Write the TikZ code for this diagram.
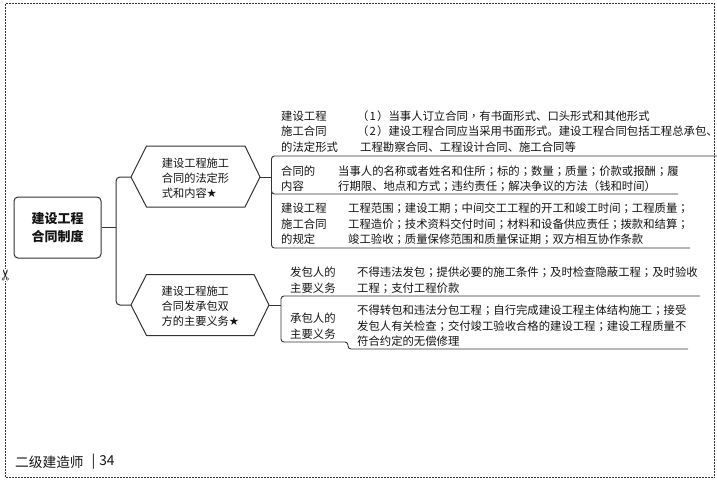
\documentclass[tikz,border=0pt]{standalone}
\usepackage{fontspec}
\setmainfont{Noto Sans CJK SC}
\newfontfamily\symfont{DejaVu Sans}
\newfontfamily\tcfont{Noto Sans CJK TC}
\newcommand{\sm}{{\tcfont ；}}
\newcommand{\cm}{{\tcfont ，}}
\newcommand{\smallstar}{{\symfont\fontsize{11.5}{11.5}\selectfont ★}}
\usetikzlibrary{calc}
\definecolor{ink}{gray}{0.2}
\definecolor{tink}{gray}{0.08}
\tikzset{
  every node/.style={text=tink},
  txt/.style={anchor=west,inner sep=0pt,font=\fontsize{11.35}{13}\selectfont},
  ctr/.style={inner sep=0pt,align=left,font=\fontsize{11.2}{15}\selectfont},
  rootbox/.style={draw=ink,line width=1pt,rounded corners=4pt,inner sep=0pt,minimum width=87pt,minimum height=61pt,align=center,font=\fontsize{13}{18}\selectfont\bfseries},
  hexline/.style={draw=ink,line width=1pt,line join=round},
  conn/.style={draw=ink,line width=1pt,rounded corners=4pt},
  brace/.style={draw=ink,line width=0.9pt,rounded corners=3pt},
  cutline/.style={draw=ink,line width=0.9pt,dash pattern=on 2pt off 1pt}
}
\begin{document}
\begin{tikzpicture}[x=1pt,y=-1pt]
\useasboundingbox (0,0) rectangle (717,480);
\fill[white] (0,0) rectangle (717,480);
% cutting border
\coordinate (tl) at (5.5,3.5); \coordinate (tr) at (714.5,3.5);
\coordinate (bl) at (5.5,477.5); \coordinate (br) at (714.5,477.5);
\draw[cutline] (tl) -- (tr) -- (br) -- (bl) -- (tl);
\node[inner sep=0pt,rotate=90,fill=white,font=\symfont\fontsize{15}{15}\selectfont] (sc) at (6.5,275) {✂};
% root
\node[rootbox] (root) at (57.5,227.5) {建设工程\\合同制度};
% hexagons
\coordinate (h1l) at (131,177); \coordinate (h1r) at (260,177);
\draw[hexline] (h1l) -- (146.5,146) -- (245,146) -- (h1r) -- (245,207) -- (146.5,207) -- cycle;
\node[ctr] (h1) at (195.5,178) {建设工程施工\\合同的法定形\\式和内容\smallstar};
\coordinate (h2l) at (131,305); \coordinate (h2r) at (269,305);
\draw[hexline] (h2l) -- (146.5,274.5) -- (254,274.5) -- (h2r) -- (254,335.5) -- (146.5,335.5) -- cycle;
\node[ctr] (h2) at (200.5,306) {建设工程施工\\合同发承包双\\方的主要义务\smallstar};
% connectors
\coordinate (jn) at (116,227.5);
\draw[conn] (root.east) -- (jn);
\draw[conn] (h1l) -- (116,177) -- (116,305) -- (h2l);
% upper bracket
\coordinate (b1) at (272,177); \coordinate (b2) at (281,305);
\draw[conn] (h1r) -- (b1);
\draw[conn] (h2r) -- (b2);
\draw[brace] (717,156) -- (271.5,156) -- (271.5,194) -- (678,194);
\draw[brace] (271.5,192) -- (271.5,248) -- (690,248);
\draw[brace] (700,296) -- (281,296) -- (281,342) -- (348,342) -- (348,349) -- (688,349);
% texts
\node[txt] (a1) at (281,116) {建设工程};
\node[txt] (a2) at (281,131.5) {施工合同};
\node[txt] (a3) at (281,147) {的法定形式};
\node[txt] (a4) at (357,116) {（\kern1.2pt 1\kern1.2pt）当事人订立合同\cm 有书面形式、口头形式和其他形式};
\node[txt] (a5) at (357,131.5) {（\kern1.2pt 2\kern1.2pt）建设工程合同应当采用书面形式。建设工程合同包括工程总承包、\kern-6pt};
\node[txt] (a6) at (360,147) {工程勘察合同、工程设计合同、施工合同等};
\node[txt] (b1t) at (281,171) {合同的};
\node[txt] (b2t) at (281,186) {内容};
\node[txt] (b3) at (338,171) {当事人的名称或者姓名和住所\sm 标的\sm 数量\sm 质量\sm 价款或报酬\sm 履};
\node[txt] (b4) at (338,186) {行期限、地点和方式\sm 违约责任\sm 解决争议的方法（钱和时间）};
\node[txt] (c1) at (281,208) {建设工程};
\node[txt] (c2) at (281,224) {施工合同};
\node[txt] (c3) at (281,239) {的规定};
\node[txt] (c4) at (348,208) {工程范围\sm 建设工期\sm 中间交工工程的开工和竣工时间\sm 工程质量\sm};
\node[txt] (c5) at (348,224) {工程造价\sm 技术资料交付时间\sm 材料和设备供应责任\sm 拨款和结算\sm};
\node[txt] (c6) at (348,239) {竣工验收\sm 质量保修范围和质量保证期\sm 双方相互协作条款};
\node[txt] (d1) at (290,272) {发包人的};
\node[txt] (d2) at (290,288) {主要义务};
\node[txt] (d3) at (357,272) {不得违法发包\sm 提供必要的施工条件\sm 及时检查隐蔽工程\sm 及时验收};
\node[txt] (d4) at (357,288) {工程\sm 支付工程价款};
\node[txt] (e1) at (290,318) {承包人的};
\node[txt] (e2) at (290,334) {主要义务};
\node[txt] (e3) at (357,310) {不得转包和违法分包工程\sm 自行完成建设工程主体结构施工\sm 接受};
\node[txt] (e4) at (357,326) {发包人有关检查\sm 交付竣工验收合格的建设工程\sm 建设工程质量不};
\node[txt] (e5) at (357,341) {符合约定的无偿修理};
% footer
\node[anchor=west,inner sep=0pt,font=\fontsize{13.7}{16}\selectfont] (ft) at (15,462) {二级建造师};
\node[anchor=west,inner sep=0pt,font=\fontsize{13.7}{16}\selectfont] (pg) at (91.5,462) {|\kern4pt 34};
\end{tikzpicture}
\end{document}
